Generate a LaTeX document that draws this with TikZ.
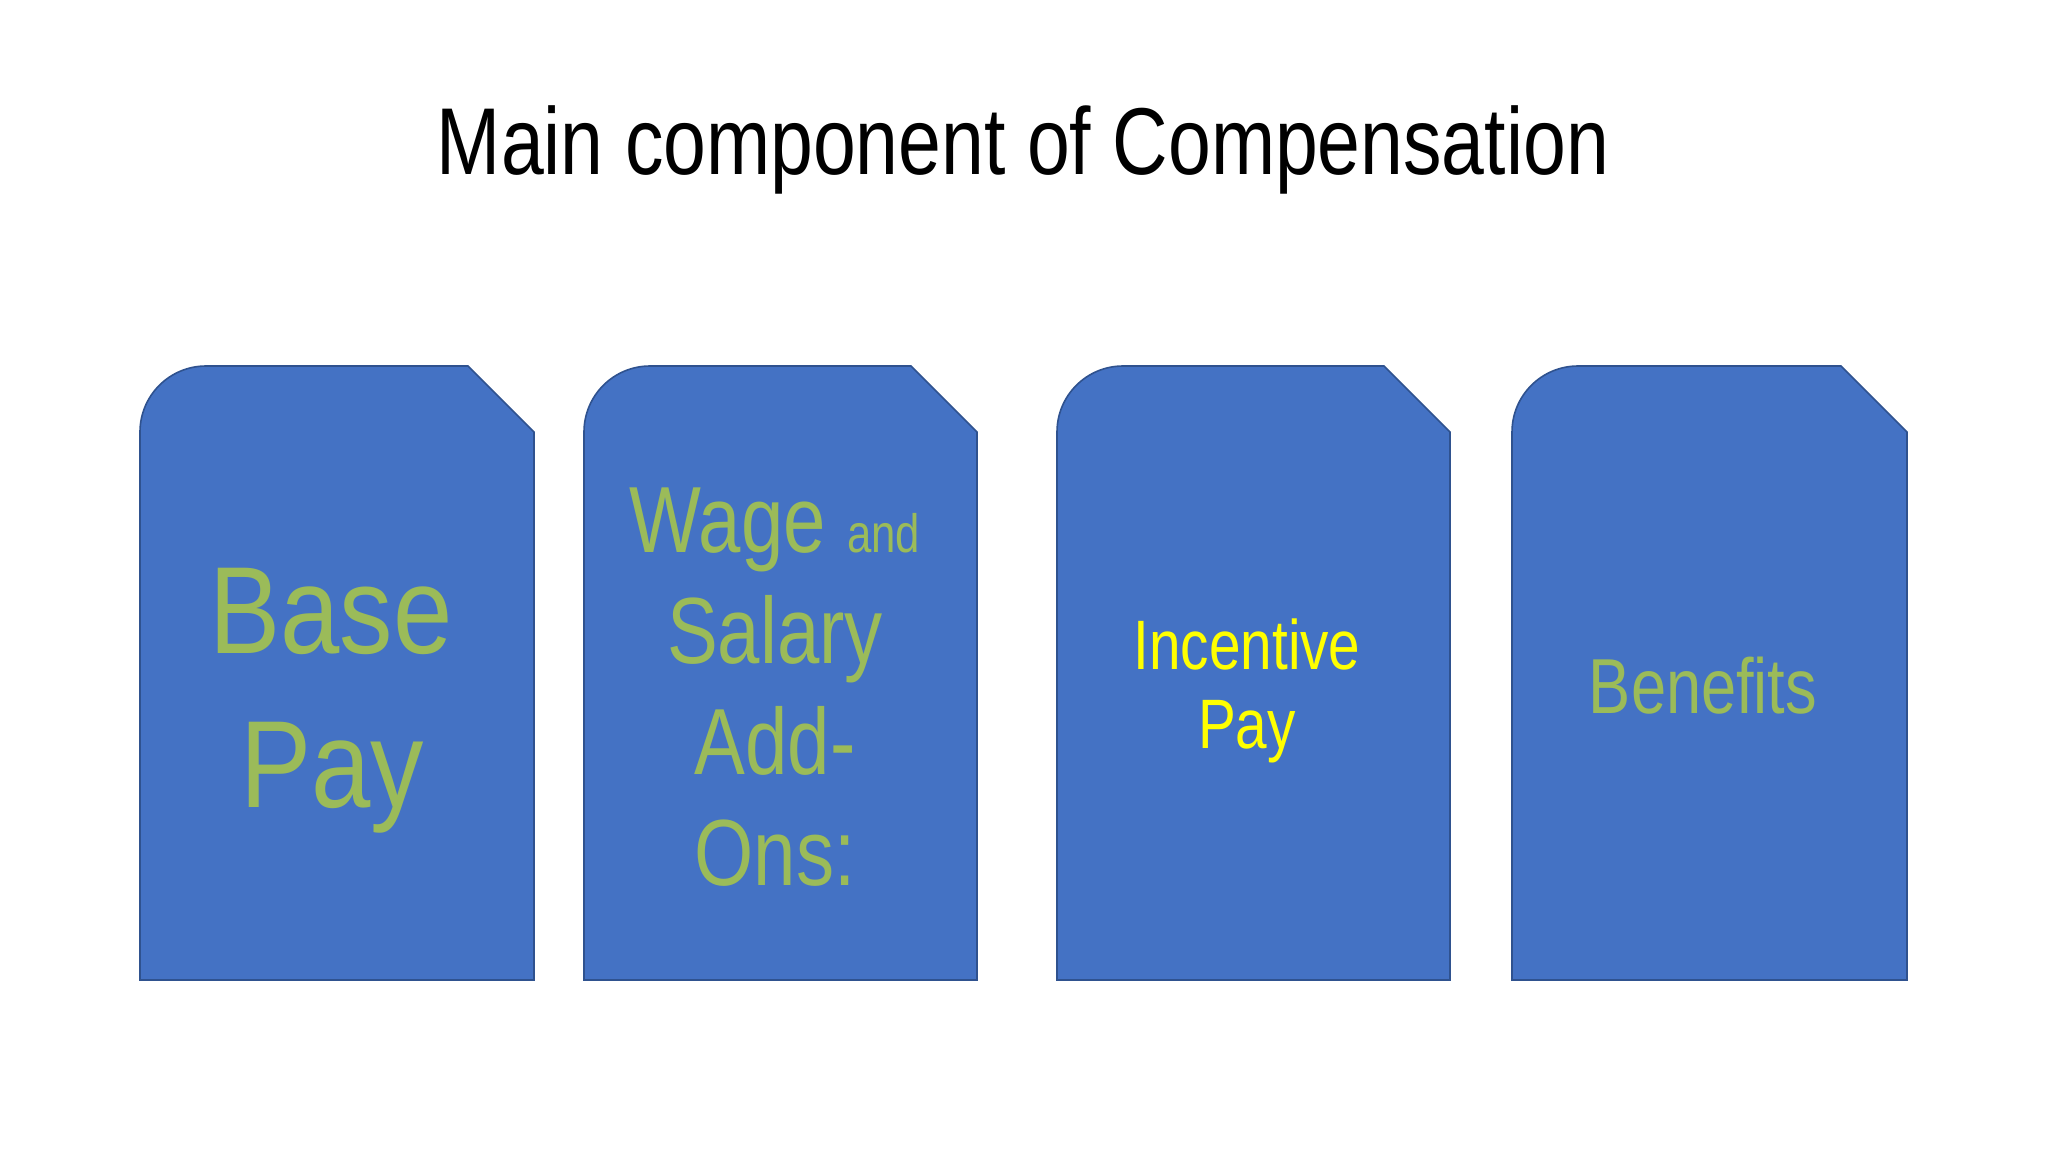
\documentclass[tikz,border=0pt]{standalone}
\usepackage{fontspec}
\newfontfamily\narrowfont[FakeStretch=0.81]{Liberation Sans}
\newfontfamily\semifont[FakeStretch=0.86]{Liberation Sans}
\definecolor{boxfill}{HTML}{4472C4}
\definecolor{boxline}{HTML}{2F528F}
\definecolor{txtgreen}{HTML}{9BBB59}
\definecolor{txtyellow}{HTML}{FFFF00}
\tikzset{
  card/.style={fill=boxfill, draw=boxline, line width=0.8pt},
  cardtext/.style={anchor=base, inner sep=0pt, text=txtgreen, font=\narrowfont},
}
\newcommand{\cardshape}[4]{% x0, y0, x1, y1
  \path[card] (#1,#4) [rounded corners=33pt] -- (#1,#2) [sharp corners] -- ({#3-66},#2) -- (#3,{#2+66}) -- (#3,#4) -- cycle;
}
\begin{document}
\begin{tikzpicture}[x=0.5pt,y=-0.5pt]
\useasboundingbox[fill=white] (0,0) rectangle (2048,1152);

\node[anchor=base, inner sep=0pt, font=\narrowfont\fontsize{47.5}{56}\selectfont] (title) at (1023,174) {Main component of Compensation};

\cardshape{140}{366}{534}{980}
\cardshape{584}{366}{977}{980}
\cardshape{1057}{366}{1450}{980}
\cardshape{1512}{366}{1907}{980}
\coordinate (c1) at (337,673);
\coordinate (c2) at (780,673);
\coordinate (c3) at (1253,673);
\coordinate (c4) at (1710,673);

\node[cardtext, font=\semifont\fontsize{62}{70}\selectfont] (base) at (331,653) {Base};
\node[cardtext, font=\semifont\fontsize{62}{70}\selectfont] (pay1) at (332,807) {Pay};

\node[cardtext, font=\narrowfont\fontsize{47}{54}\selectfont] (wage) at (775,552) {Wage {\fontsize{27}{30}\selectfont and}};
\node[cardtext, font=\narrowfont\fontsize{47}{54}\selectfont] (salary) at (775,663) {Salary};
\node[cardtext, font=\narrowfont\fontsize{47}{54}\selectfont] (add) at (775,774) {Add-};
\node[cardtext, font=\narrowfont\fontsize{47}{54}\selectfont] (ons) at (775,885) {Ons:};

\node[cardtext, text=txtyellow, font=\narrowfont\fontsize{35}{40}\selectfont] (incentive) at (1247,669) {Incentive};
\node[cardtext, text=txtyellow, font=\narrowfont\fontsize{35}{40}\selectfont] (pay3) at (1247,748) {Pay};

\node[cardtext, font=\narrowfont\fontsize{39}{44}\selectfont] (benefits) at (1703,713) {Benefits};
\end{tikzpicture}
\end{document}
